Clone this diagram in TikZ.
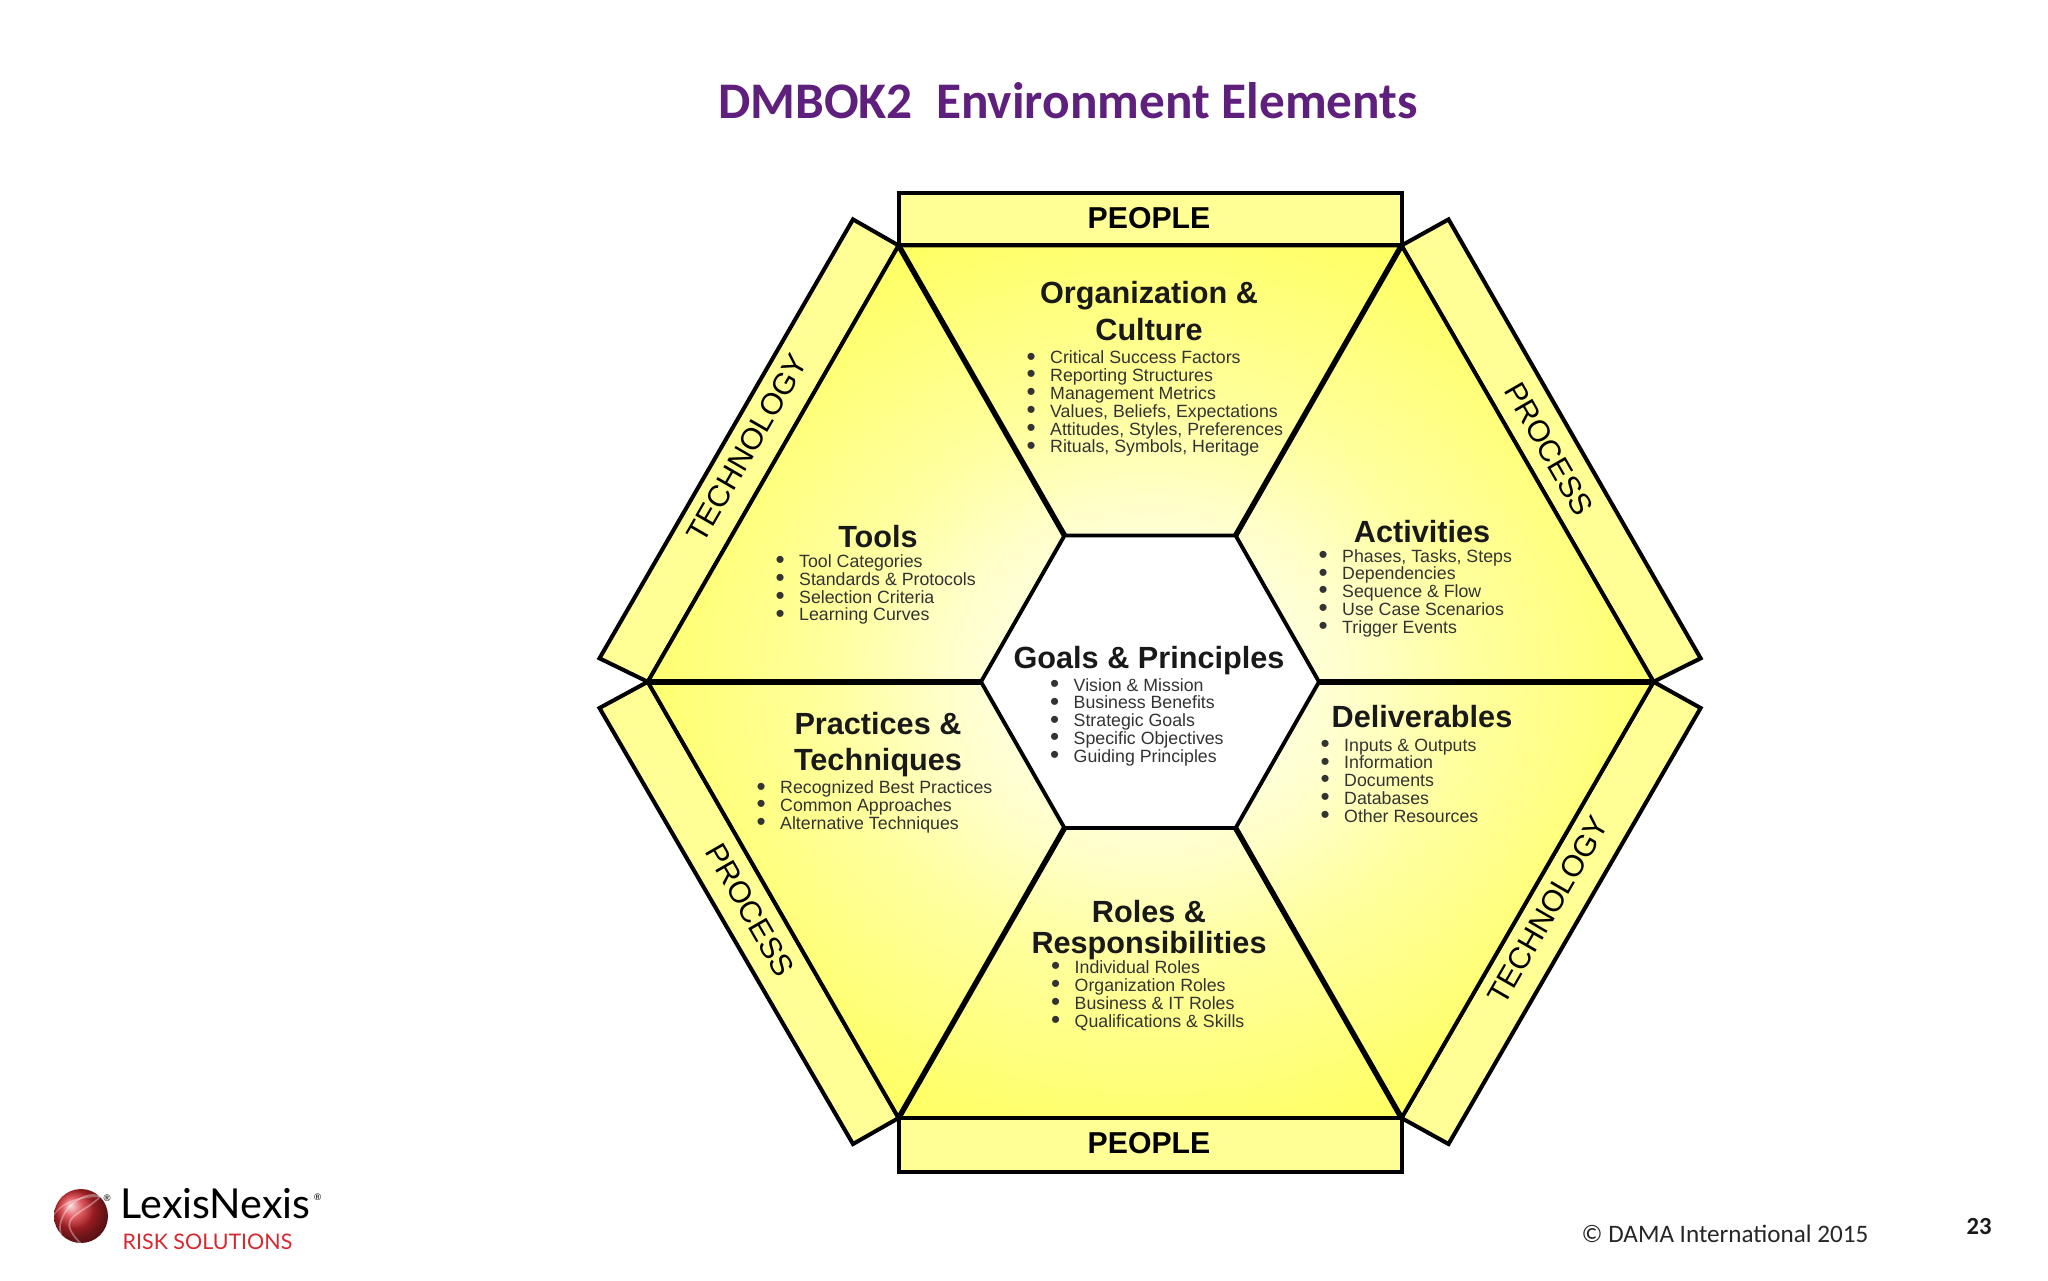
\documentclass[tikz,border=0pt]{standalone}
\usepackage{fontspec}
\setmainfont{Liberation Sans}
\newfontfamily\titlefont{Carlito}
\newfontfamily\logofont{Lato}
\usetikzlibrary{positioning}
\definecolor{myyellow}{RGB}{255,255,150}
\definecolor{mypurple}{RGB}{95,32,125}
\definecolor{myred}{RGB}{214,40,48}
\pgfdeclareradialshading{hexshade}{\pgfpointorigin}{color(0bp)=(white); color(10bp)=(yellow!20!white); color(16bp)=(yellow!38!white); color(25bp)=(yellow!56!white); color(33bp)=(yellow!72!white); color(50bp)=(yellow!78!white)}
\newcommand{\bul}{\makebox[2.35mm][l]{\raisebox{-.35pt}{\fontsize{7.4}{7.4}\selectfont\textbullet}}}

\begin{document}
\begin{tikzpicture}[x=0.1mm,y=-0.1mm,inner sep=0pt]
\tikzstyle{band}=[draw=black, line width=1.15pt, line join=miter, fill=myyellow]
\tikzstyle{spoke}=[draw=black, line width=1.55pt]
\tikzstyle{rim}=[draw=black, line width=1.1pt]
\tikzstyle{head}=[font=\fontsize{8.72}{10.4}\selectfont\bfseries, align=center, text=black!90]
\tikzstyle{items}=[font=\fontsize{5.05}{5.07}\selectfont, align=left, text=black!80]
\tikzstyle{side}=[font=\fontsize{8.6}{10}\selectfont]
\useasboundingbox (0,0) rectangle (2048,1280);

% hexagon corners
\coordinate (otl) at (898.6,245.5);
\coordinate (otr) at (1401.5,245.5);
\coordinate (or) at (1653.5,681.8);
\coordinate (obr) at (1401.5,1118);
\coordinate (obl) at (898.6,1118);
\coordinate (ol) at (647.8,681.8);
\coordinate (itl) at (1064.5,535.5);
\coordinate (itr) at (1235.6,535.5);
\coordinate (ir) at (1319,681.8);
\coordinate (ibr) at (1235.6,828);
\coordinate (ibl) at (1064.5,828);
\coordinate (il) at (981,681.8);

% bands round the hexagon
\coordinate (pa) at (898.6,193);
\coordinate (pb) at (1401.5,193);
\coordinate (pc) at (1401.5,1171.6);
\coordinate (pd) at (898.6,1171.6);
\coordinate (ta) at (853,219.4);
\coordinate (tb) at (599.5,658.3);
\coordinate (ua) at (1448.5,219.4);
\coordinate (ub) at (1700.6,658.3);
\coordinate (va) at (599.5,708);
\coordinate (vb) at (853,1144);
\coordinate (wa) at (1700.6,708);
\coordinate (wb) at (1448.5,1144);
\path[band] (otl) -- (pa) -- (pb) -- (otr) -- cycle;
\path[band] (obl) -- (pd) -- (pc) -- (obr) -- cycle;
\path[band] (otl) -- (ta) -- (tb) -- (ol) -- cycle;
\path[band] (otr) -- (ua) -- (ub) -- (or) -- cycle;
\path[band] (ol) -- (va) -- (vb) -- (obl) -- cycle;
\path[band] (or) -- (wa) -- (wb) -- (obr) -- cycle;

\shade[shading=hexshade] (otl) -- (otr) -- (or) -- (obr) -- (obl) -- (ol) -- cycle;
\path[rim,fill=white] (itl) -- (itr) -- (ir) -- (ibr) -- (ibl) -- (il) -- cycle;
\path[rim] (otl) -- (otr) -- (or) -- (obr) -- (obl) -- (ol) -- cycle;
\path[spoke] (otl) -- (itl);
\path[spoke] (otr) -- (itr);
\path[spoke] (or) -- (ir);
\path[spoke] (obr) -- (ibr);
\path[spoke] (obl) -- (ibl);
\path[spoke] (ol) -- (il);

\node[font=\fontsize{14.6}{16}\selectfont\titlefont\bfseries, text=mypurple] (title) at (1068,101) {DMBOK2\ \ Environment Elements};

\node[side,font=\fontsize{8.6}{10}\selectfont\bfseries] (peoplea) at (1149,218) {PEOPLE};
\node[side,font=\fontsize{8.6}{10}\selectfont\bfseries] (peopleb) at (1149,1143) {PEOPLE};
\node[side,rotate=60] (techa) at (747,448) {TECHNOLOGY};
\node[side,rotate=60] (techb) at (1548,910) {TECHNOLOGY};
\node[side,rotate=-60] (proca) at (1549,449) {PROCESS};
\node[side,rotate=-60] (procb) at (750,910) {PROCESS};

\node[head] (org) at (1149,311) {Organization \&\\Culture};
\node[items] (orglist) [below right=0.9mm and -12.3mm of org.south] {\bul Critical Success Factors\\\bul Reporting Structures\\\bul Management Metrics\\\bul Values, Beliefs, Expectations\\\bul Attitudes, Styles, Preferences\\\bul Rituals, Symbols, Heritage};
\node[head] (tools) at (878,537) {Tools};
\node[items] (toolslist) [below right=0.5mm and -10.3mm of tools.south] {\bul Tool Categories\\\bul Standards \& Protocols\\\bul Selection Criteria\\\bul Learning Curves};
\node[head] (act) at (1422,531.5) {Activities};
\node[items] (actlist) [below right=0.5mm and -10.4mm of act.south] {\bul Phases, Tasks, Steps\\\bul Dependencies\\\bul Sequence \& Flow\\\bul Use Case Scenarios\\\bul Trigger Events};
\node[head] (goals) at (1149,660.6) {Goals \& Principles};
\node[items] (goalslist) [below right=0.2mm and -9.95mm of goals.south] {\bul Vision \& Mission\\\bul Business Benefits\\\bul Strategic Goals\\\bul Specific Objectives\\\bul Guiding Principles};
\node[head] (prac) at (878,744.6) {Practices \&\\Techniques};
\node[items] (praclist) [below right=0.24mm and -12.2mm of prac.south] {\bul Recognized Best Practices\\\bul Common Approaches\\\bul Alternative Techniques};
\node[head] (deliv) at (1422,717) {Deliverables};
\node[items] (delivlist) [below right=0.9mm and -10.2mm of deliv.south] {\bul Inputs \& Outputs\\\bul Information\\\bul Documents\\\bul Databases\\\bul Other Resources};
\node[head,font=\fontsize{8.72}{8.9}\selectfont\bfseries] (roles) at (1149,930) {Roles \&\\Responsibilities};
\node[items] (roleslist) [below right=-0.05mm and -9.85mm of roles.south] {\bul Individual Roles\\\bul Organization Roles\\\bul Business \& IT Roles\\\bul Qualifications \& Skills};

% logo and footer
\node[circle, minimum size=5.4mm, ball color=myred] (ball) at (81,1216) {};
\draw[white, opacity=.35, line width=.5pt] (ball.north east) .. controls (ball.north) and (ball.west) .. (ball.south west);
\draw[white, opacity=.35, line width=.5pt] (ball.north east) .. controls (ball.center) and (ball.west) .. (ball.south);
\draw[white, opacity=.3, line width=.4pt] (ball.north east) .. controls (ball.north west) and (ball.west) .. (ball.west);
\node[font=\fontsize{11.75}{13}\selectfont\logofont, anchor=west] (lexis) at (120,1204) {LexisNexis};
\node[font=\fontsize{2.6}{3}\selectfont\logofont, anchor=west] (rega) at ([xshift=.2mm,yshift=-.2mm]ball.north east) {®};
\node[font=\fontsize{2.6}{3}\selectfont\logofont, anchor=west] (regb) at ([xshift=.2mm,yshift=.7mm]lexis.east) {®};
\node[font=\fontsize{6.1}{7}\selectfont\logofont, text=myred, anchor=west] (risk) at (122,1242) {RISK SOLUTIONS};
\node[font=\fontsize{7.15}{8}\selectfont\titlefont, text=black!85] (copy) at (1725,1234) {© DAMA International 2015};
\node[font=\fontsize{7}{8}\selectfont\titlefont\bfseries, text=black!90] (page) at (1979,1226) {23};
\end{tikzpicture}
\end{document}
